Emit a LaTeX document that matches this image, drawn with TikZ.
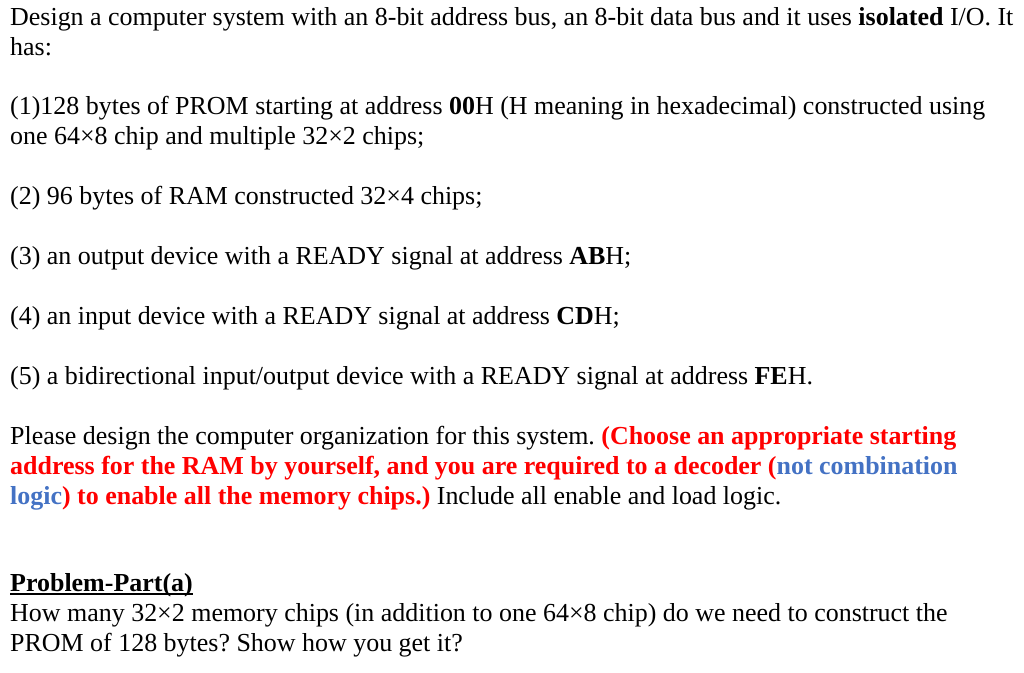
\documentclass[tikz,border=0pt]{standalone}
\usepackage{fontspec}
\setmainfont{Liberation Serif}
\definecolor{myred}{HTML}{FF0000}
\definecolor{myblue}{HTML}{4472C4}
\begin{document}
\frenchspacing
\begin{tikzpicture}[x=1pt,y=-1pt,
  txt/.style={anchor=base west,inner sep=0pt,font=\fontsize{25.95}{30}\selectfont}]
\useasboundingbox (0,0) rectangle (1024,672);
\node[txt] (l1) at (10,25) {Design a computer system with an 8-bit address bus, an 8-bit data bus and it uses \textbf{isolated} I/O. It};
\node[txt] (l2) at (10,55) {has:};
\node[txt] (l3) at (10,114) {(1)128 bytes of PROM starting at address \textbf{00}H (H meaning in hexadecimal) constructed using};
\node[txt] (l4) at (10,144) {one 64×8 chip and multiple 32×2 chips;};
\node[txt] (l5) at (10,204) {(2) 96 bytes of RAM constructed 32×4 chips;};
\node[txt] (l6) at (10,264) {(3) an output device with a READY signal at address \textbf{AB}H;};
\node[txt] (l7) at (10,324) {(4) an input device with a READY signal at address \textbf{CD}H;};
\node[txt] (l8) at (10,384) {(5) a bidirectional input/output device with a READY signal at address \textbf{FE}H.};
\node[txt] (l9) at (10,444) {Please design the computer organization for this system. \textcolor{myred}{\textbf{(Choose an appropriate starting}}};
\node[txt] (l10) at (10,474) {\textcolor{myred}{\textbf{address for the RAM by yourself, and you are required to a decoder (}}\textcolor{myblue}{\textbf{not combination}}};
\node[txt] (l11) at (10,504) {\textcolor{myblue}{\textbf{logic}}\textcolor{myred}{\textbf{) to enable all the memory chips.)}} Include all enable and load logic.};
\node[txt] (l12) at (10,591) {\textbf{Problem-Part(a)}};
\draw[line width=1.4pt] (10,594) -- (l12.base east |- 0,594);
\node[txt] (l13) at (10,621) {How many 32×2 memory chips (in addition to one 64×8 chip) do we need to construct the};
\node[txt] (l14) at (10,651) {PROM of 128 bytes? Show how you get it?};
\end{tikzpicture}
\end{document}
